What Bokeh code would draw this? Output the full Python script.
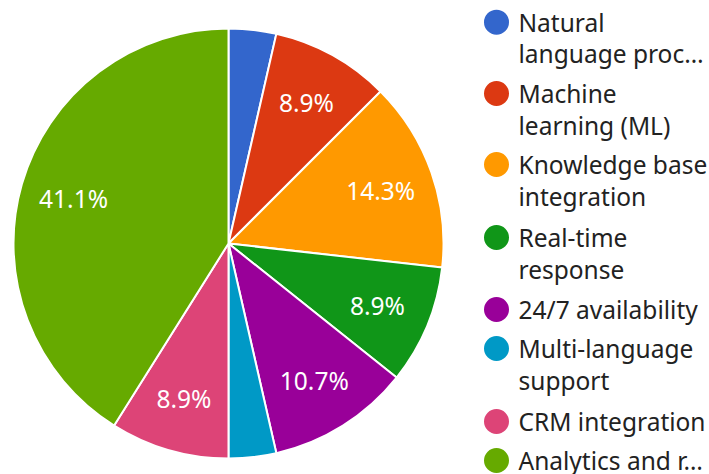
import math
from bokeh.plotting import figure
from bokeh.models import Range1d, ColumnDataSource
from bokeh.core.properties import value
from bokeh.embed import file_html
from bokeh.resources import INLINE

categories = [
    "Natural language processing",
    "Machine learning (ML)",
    "Knowledge base integration",
    "Real-time response",
    "24/7 availability",
    "Multi-language support",
    "CRM integration",
    "Analytics and reporting",
]
legend_lines = [
    ["Natural", "language proc\u2026"],
    ["Machine", "learning (ML)"],
    ["Knowledge base", "integration"],
    ["Real-time", "response"],
    ["24/7 availability"],
    ["Multi-language", "support"],
    ["CRM integration"],
    ["Analytics and r\u2026"],
]
counts = [2, 5, 8, 5, 6, 2, 5, 23]
colors = ["#3366cc", "#dc3912", "#ff9900", "#109618", "#990099", "#0099c6", "#dd4477", "#66aa00"]

W, H = 709, 474
p = figure(width=W, height=H, output_backend="svg", toolbar_location=None,
           x_range=Range1d(0, W), y_range=Range1d(-H, 0),
           min_border=0, outline_line_color=None, background_fill_color="white",
           border_fill_color="white")
p.axis.visible = False
p.grid.visible = False

cx, cy, r = 228, -243, 215
total = sum(counts)
starts, ends, lx, ly, labels = [], [], [], [], []
acc = 0
for c in counts:
    a0 = math.pi / 2 - 2 * math.pi * acc / total
    a1 = math.pi / 2 - 2 * math.pi * (acc + c) / total
    starts.append(a0)
    ends.append(a1)
    mid = (a0 + a1) / 2
    frac = c / total
    if frac > 0.05:
        lx.append(cx + 0.75 * r * math.cos(mid))
        ly.append(cy + 0.75 * r * math.sin(mid))
        labels.append(f"{frac*100:.1f}%")
    acc += c

src = ColumnDataSource(dict(start=starts, end=ends, color=colors))
p.wedge(x=cx, y=cy, radius=r, start_angle="start", end_angle="end", direction="clock",
        fill_color="color", line_color="white", line_width=2, source=src)

p.text(x=lx, y=ly, text=labels, text_color="white", text_font=value("Noto Sans"),
       text_font_size="24.5px", text_align="center", text_baseline="middle")

# legend
item_y = [21.7, 93, 164, 237, 309, 348, 421, 460]
line_h = 31.5
tx, ty, tt = [], [], []
for lines, y0 in zip(legend_lines, item_y):
    for i, ln in enumerate(lines):
        tx.append(518)
        ty.append(-(y0 + i * line_h))
        tt.append(ln)
p.scatter(x=[496] * len(item_y), y=[-y for y in item_y], size=25, marker="circle",
          fill_color=colors, line_color=None)
p.text(x=tx, y=ty, text=tt, text_color="#222222", text_font=value("Noto Sans"),
       text_font_size="24.5px", text_align="left", text_baseline="middle")

open("out.html", "w").write(file_html(p, INLINE))
